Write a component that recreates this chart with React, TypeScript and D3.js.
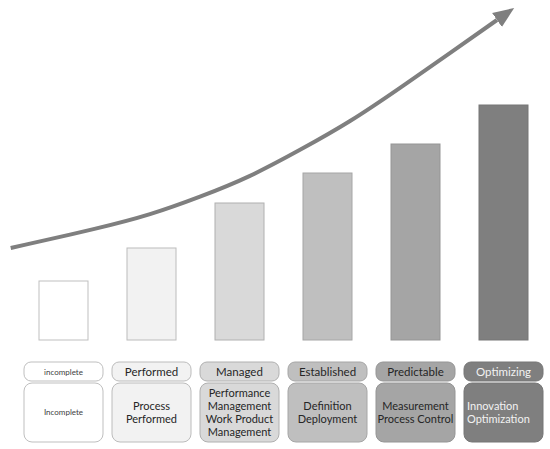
import { useEffect, useRef } from "react";
import * as d3 from "d3";

// maturity levels, left to right
const levels = ["L0", "L1", "L2", "L3", "L4", "L5"];
const levelNames = ["incomplete", "Performed", "Managed", "Established", "Predictable", "Optimizing"];
const levelValues = [59, 92, 137, 167, 196, 235];
const levelDetails = [
  ["Incomplete"],
  ["Process", "Performed"],
  ["Performance", "Management", "Work Product", "Management"],
  ["Definition", "Deployment"],
  ["Measurement", "Process Control"],
  ["Innovation", "Optimization"],
];
const fills = ["#ffffff", "#f2f2f2", "#d9d9d9", "#bfbfbf", "#a5a5a5", "#7f7f7f"];
const strokes = ["#bfbfbf", "#bcbcbc", "#b0b0b0", "#a6a6a6", "#959595", "#777777"];

// trend arrow, x in level-index units, y in value units
const trendX = [-0.6, 0.415, 0.983, 1.551, 2.119, 2.688, 3.256, 3.824, 4.392, 4.926];
const trendY = [92, 112, 125, 143, 163, 190, 218, 252, 287, 320];

export default function App() {
  const svgRef = useRef<SVGSVGElement>(null);

  useEffect(() => {
    if (!svgRef.current) return;
    const width = 550;
    const height = 449;
    const baseline = 340;

    const svg = d3.select(svgRef.current);
    svg.selectAll("*").remove();

    const x = d3
      .scaleBand<string>()
      .domain(levels)
      .range([19.5, 547.5])
      .paddingInner(39 / 88)
      .paddingOuter(39 / 176);

    const y = d3.scaleLinear().domain([0, 250]).range([baseline, baseline - 250]);

    const step = x.step();
    const center = (i: number) => (x(levels[0]) as number) + x.bandwidth() / 2 + step * i;

    // bars
    svg
      .append("g")
      .selectAll("rect")
      .data(levelValues)
      .join("rect")
      .attr("x", (d, i) => x(levels[i]) as number)
      .attr("y", (d) => y(d))
      .attr("width", x.bandwidth())
      .attr("height", (d) => baseline - y(d))
      .attr("fill", (d, i) => fills[i])
      .attr("stroke", (d, i) => strokes[i])
      .attr("stroke-width", 1);

    // arrow
    const defs = svg.append("defs");
    defs
      .append("marker")
      .attr("id", "head")
      .attr("markerUnits", "userSpaceOnUse")
      .attr("viewBox", "0 -9 21 18")
      .attr("refX", 0)
      .attr("refY", 0)
      .attr("markerWidth", 21)
      .attr("markerHeight", 18)
      .attr("orient", "auto")
      .append("path")
      .attr("d", "M0,-8.5L21,0L0,8.5Z")
      .attr("fill", "#7f7f7f");

    const line = d3
      .line<number>()
      .x((d, i) => center(trendX[i]))
      .y((d) => y(d))
      .curve(d3.curveBasis);

    svg
      .append("path")
      .datum(trendY)
      .attr("fill", "none")
      .attr("stroke", "#7f7f7f")
      .attr("stroke-width", 4)
      .attr("marker-end", "url(#head)")
      .attr("d", line);

    // label boxes
    const boxW = 79;
    const font = "Lato, 'Open Sans', sans-serif";
    const g = svg.append("g").attr("font-family", font);

    levels.forEach((lv, i) => {
      const cx = center(i);
      const left = cx - boxW / 2;
      const textFill = i === 5 ? "#f2f2f2" : "#262626";

      g.append("rect")
        .attr("x", left)
        .attr("y", 362)
        .attr("width", boxW)
        .attr("height", 19)
        .attr("rx", 7)
        .attr("fill", fills[i])
        .attr("stroke", strokes[i]);

      g.append("text")
        .attr("x", cx)
        .attr("y", 372)
        .attr("dy", "0.35em")
        .attr("text-anchor", "middle")
        .attr("font-size", i === 0 ? 8 : 11.5)
        .attr("fill", i === 0 ? "#404040" : textFill)
        .text(levelNames[i]);

      g.append("rect")
        .attr("x", left)
        .attr("y", 383)
        .attr("width", boxW)
        .attr("height", 59)
        .attr("rx", 8)
        .attr("fill", fills[i])
        .attr("stroke", strokes[i]);

      const lines = levelDetails[i];
      const lh = 13;
      const y0 = 412.5 - ((lines.length - 1) * lh) / 2;
      g.append("g")
        .selectAll("text")
        .data(lines)
        .join("text")
        .attr("x", i === 5 ? left + 3 : cx)
        .attr("y", (d, j) => y0 + j * lh)
        .attr("dy", "0.35em")
        .attr("text-anchor", i === 5 ? "start" : "middle")
        .attr("font-size", i === 0 ? 8 : 11)
        .attr("fill", i === 0 ? "#404040" : textFill)
        .text((d) => d);
    });

    svg.attr("width", width).attr("height", height);
  }, []);

  return (
    <svg
      ref={svgRef}
      width={550}
      height={449}
      style={{ position: "absolute", left: 0, top: 0, background: "#fff" }}
    />
  );
}
